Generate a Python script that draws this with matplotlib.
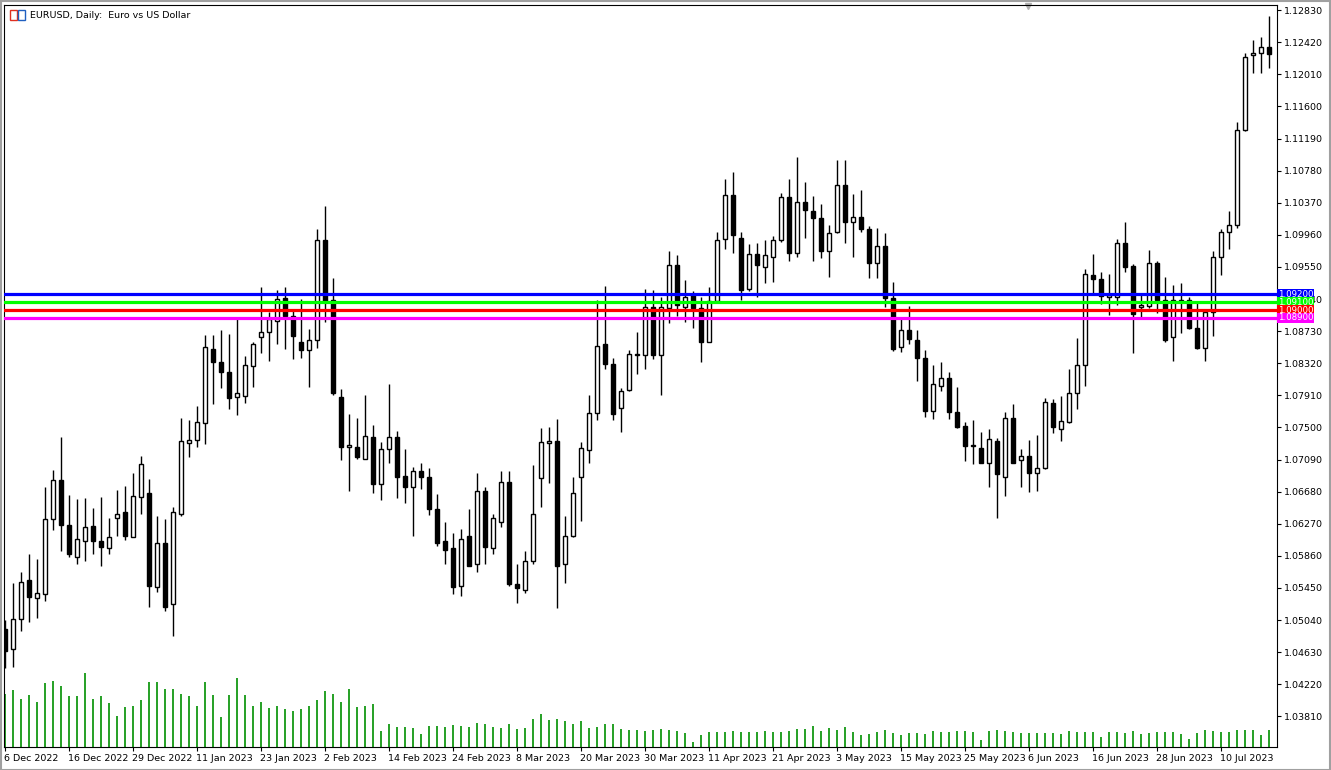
import matplotlib
matplotlib.use("Agg")
import matplotlib.pyplot as plt
from matplotlib.patches import Rectangle
import matplotlib.transforms as mtrans
import numpy as np

opens = [1.0493,1.0467,1.0506,1.0555,1.0532,1.0537,1.0633,1.0683,1.0625,1.0585,
 1.0605,1.0624,1.0605,1.0596,1.0635,1.0642,1.0610,1.0661,1.0666,1.0546,
 1.0603,1.0525,1.0640,1.0730,1.0734,1.0756,1.0850,1.0834,1.0821,1.0789,
 1.0790,1.0829,1.0866,1.0872,1.0886,1.0916,1.0893,1.0859,1.0849,1.0862,
 1.0989,1.0913,1.0789,1.0725,1.0725,1.0710,1.0738,1.0678,1.0722,1.0738,
 1.0688,1.0674,1.0694,1.0687,1.0646,1.0605,1.0596,1.0548,1.0611,1.0576,
 1.0669,1.0596,1.0629,1.0681,1.0550,1.0543,1.0580,1.0685,1.0730,1.0733,
 1.0575,1.0611,1.0687,1.0721,1.0768,1.0857,1.0831,1.0775,1.0798,1.0843,
 1.0843,1.0904,1.0843,1.0903,1.0957,1.0904,1.0919,1.0903,1.0859,1.0912,
 1.0991,1.1047,1.0992,1.0927,1.0972,1.0955,1.0968,1.0990,1.1045,1.0973,
 1.1038,1.1027,1.1017,1.0975,1.1000,1.1060,1.1013,1.1019,1.1003,1.0960,
 1.0982,1.0916,1.0853,1.0875,1.0862,1.0839,1.0771,1.0803,1.0813,1.0770,
 1.0752,1.0726,1.0724,1.0705,1.0733,1.0687,1.0762,1.0708,1.0713,1.0692,
 1.0698,1.0781,1.0748,1.0757,1.0794,1.0830,1.0945,1.0940,1.0917,1.0917,
 1.0986,1.0956,1.0904,1.0905,1.0960,1.0913,1.0865,1.0912,1.0913,1.0877,
 1.0852,1.0898,1.0968,1.1000,1.1008,1.1130,1.1226,1.1228,1.1236]
highs = [1.0504,1.0551,1.0566,1.0589,1.0582,1.0674,1.0696,1.0738,1.0664,1.0659,
 1.0660,1.0647,1.0661,1.0634,1.0670,1.0675,1.0692,1.0713,1.0684,1.0637,
 1.0633,1.0649,1.0762,1.0759,1.0777,1.0868,1.0868,1.0875,1.0870,1.0890,
 1.0841,1.0859,1.0929,1.0898,1.0925,1.0930,1.0900,1.0914,1.0876,1.1003,
 1.1033,1.0941,1.0799,1.0767,1.0762,1.0792,1.0753,1.0731,1.0806,1.0745,
 1.0722,1.0699,1.0705,1.0698,1.0665,1.0629,1.0615,1.0620,1.0646,1.0692,
 1.0674,1.0639,1.0694,1.0694,1.0575,1.0592,1.0702,1.0749,1.0751,1.0761,
 1.0637,1.0687,1.0731,1.0792,1.0913,1.0931,1.0839,1.0801,1.0849,1.0872,
 1.0927,1.0926,1.0917,1.0975,1.0970,1.0939,1.0924,1.0917,1.0929,1.1000,
 1.1067,1.1076,1.1000,1.0984,1.0985,1.0990,1.0995,1.1050,1.1067,1.1095,
 1.1063,1.1046,1.1036,1.1009,1.1091,1.1091,1.1048,1.1053,1.1007,1.1005,
 1.0999,1.0936,1.0889,1.0905,1.0875,1.0849,1.0830,1.0833,1.0821,1.0802,
 1.0757,1.0759,1.0744,1.0748,1.0737,1.0770,1.0780,1.0722,1.0734,1.0740,
 1.0788,1.0786,1.0790,1.0825,1.0864,1.0953,1.0971,1.0948,1.0946,1.0991,
 1.1013,1.0959,1.0919,1.0977,1.0963,1.0942,1.0932,1.0934,1.0917,1.0909,
 1.0900,1.0975,1.1003,1.1027,1.1140,1.1228,1.1245,1.1249,1.1276]
lows = [1.0443,1.0444,1.0490,1.0502,1.0507,1.0529,1.0619,1.0592,1.0584,1.0576,
 1.0579,1.0589,1.0573,1.0588,1.0611,1.0606,1.0610,1.0639,1.0521,1.0540,
 1.0516,1.0484,1.0637,1.0712,1.0725,1.0729,1.0780,1.0801,1.0774,1.0766,
 1.0781,1.0802,1.0845,1.0835,1.0857,1.0850,1.0838,1.0839,1.0802,1.0852,
 1.0885,1.0792,1.0708,1.0669,1.0710,1.0710,1.0666,1.0657,1.0705,1.0660,
 1.0654,1.0612,1.0671,1.0638,1.0598,1.0576,1.0537,1.0535,1.0573,1.0565,
 1.0576,1.0589,1.0623,1.0547,1.0526,1.0538,1.0575,1.0649,1.0679,1.0519,
 1.0551,1.0610,1.0630,1.0704,1.0760,1.0825,1.0760,1.0744,1.0796,1.0818,
 1.0825,1.0838,1.0792,1.0884,1.0893,1.0885,1.0877,1.0833,1.0859,1.0912,
 1.0978,1.0973,1.0913,1.0924,1.0917,1.0934,1.0936,1.0987,1.0963,1.0968,
 1.0992,1.0962,1.0966,1.0942,1.0999,1.0986,1.0968,1.1000,1.0941,1.0941,
 1.0904,1.0848,1.0847,1.0856,1.0810,1.0763,1.0761,1.0797,1.0761,1.0749,
 1.0707,1.0703,1.0705,1.0674,1.0635,1.0662,1.0704,1.0674,1.0667,1.0669,
 1.0697,1.0743,1.0733,1.0756,1.0774,1.0803,1.0922,1.0908,1.0894,1.0907,
 1.0948,1.0845,1.0889,1.0902,1.0896,1.0859,1.0835,1.0871,1.0876,1.0850,
 1.0835,1.0867,1.0945,1.0978,1.1005,1.1129,1.1203,1.1203,1.1209]
closes = [1.0465,1.0506,1.0553,1.0533,1.0538,1.0633,1.0683,1.0625,1.0589,1.0607,
 1.0623,1.0605,1.0597,1.0610,1.0640,1.0611,1.0662,1.0703,1.0547,1.0603,
 1.0521,1.0642,1.0733,1.0734,1.0757,1.0853,1.0833,1.0821,1.0788,1.0794,
 1.0830,1.0857,1.0872,1.0889,1.0914,1.0893,1.0867,1.0849,1.0862,1.0990,
 1.0910,1.0794,1.0725,1.0728,1.0712,1.0739,1.0678,1.0722,1.0738,1.0687,
 1.0674,1.0694,1.0687,1.0646,1.0603,1.0594,1.0546,1.0608,1.0573,1.0669,
 1.0597,1.0634,1.0681,1.0550,1.0545,1.0580,1.0639,1.0731,1.0733,1.0573,
 1.0612,1.0666,1.0724,1.0768,1.0854,1.0831,1.0767,1.0797,1.0844,1.0844,
 1.0904,1.0843,1.0904,1.0957,1.0907,1.0917,1.0903,1.0859,1.0912,1.0990,
 1.1047,1.0996,1.0926,1.0972,1.0957,1.0970,1.0990,1.1045,1.0973,1.1038,
 1.1028,1.1018,1.0975,1.0999,1.1060,1.1013,1.1019,1.1004,1.0960,1.0982,
 1.0916,1.0850,1.0875,1.0863,1.0839,1.0771,1.0806,1.0813,1.0770,1.0751,
 1.0726,1.0727,1.0705,1.0735,1.0690,1.0762,1.0705,1.0713,1.0692,1.0698,
 1.0783,1.0751,1.0758,1.0794,1.0830,1.0946,1.0940,1.0918,1.0919,1.0986,
 1.0955,1.0895,1.0907,1.0960,1.0913,1.0862,1.0913,1.0913,1.0877,1.0852,
 1.0898,1.0968,1.1000,1.1008,1.1130,1.1223,1.1228,1.1236,1.1227]
volumes = [160,171,144,156,135,192,198,183,153,153,222,144,153,132,93,120,123,141,195,195,
 174,174,159,153,123,195,156,90,156,207,156,123,135,117,123,114,108,114,123,141,
 168,159,135,174,120,123,129,48,69,60,60,57,39,63,63,60,66,63,60,72,
 69,60,57,69,54,57,84,99,81,84,78,69,78,57,60,69,69,54,51,51,
 48,51,54,51,48,42,15,36,45,45,45,48,45,45,45,48,45,45,48,54,
 54,63,48,57,51,60,45,36,39,45,51,42,36,42,42,39,48,45,45,48,
 48,45,21,48,51,48,45,42,42,42,42,42,39,48,45,45,45,30,45,45,
 42,48,39,42,45,45,45,39,24,42,51,48,45,45,51,51,51,36,51]
date_labels = ["6 Dec 2022","16 Dec 2022","29 Dec 2022","11 Jan 2023","23 Jan 2023",
 "2 Feb 2023","14 Feb 2023","24 Feb 2023","8 Mar 2023","20 Mar 2023","30 Mar 2023",
 "11 Apr 2023","21 Apr 2023","3 May 2023","15 May 2023","25 May 2023","6 Jun 2023",
 "16 Jun 2023","28 Jun 2023","10 Jul 2023"]
level_prices = [1.0920, 1.0910, 1.0900, 1.0890]
level_colors = ["#0000ff", "#00ff00", "#ff0000", "#ff00ff"]
price_ticks = [1.12830 - 0.0041*i for i in range(23)]

W, H = 1331, 770
fig = plt.figure(figsize=(W/100, H/100), dpi=100)
fig.patch.set_facecolor("white")
L, R, T, B = 4, 1277, 5, 747
ax = fig.add_axes([L/W, (H-B)/H, (R-L)/W, (B-T)/H])
n = len(opens)
ax.set_xlim(-0.125, 159)
ax.set_ylim(1.03419, 1.12896)

axv = ax.twinx()
axv.set_ylim(0, (B-T)*3)
axv.set_xlim(-0.125, 159)
axv.vlines(np.arange(n), 0, volumes, color="#009000", lw=1.2)
axv.axis("off")
axv.set_zorder(0)
ax.set_zorder(1)
ax.patch.set_visible(False)

bw = 0.56
for i in range(n):
    o, h, l, c = opens[i], highs[i], lows[i], closes[i]
    ax.vlines(i, l, h, color="black", lw=1.0, zorder=3)
    bot, top = min(o, c), max(o, c)
    ht = max(top-bot, 0.00003)
    face = "white" if c >= o else "black"
    ax.add_patch(Rectangle((i-bw/2, bot), bw, ht, facecolor=face, edgecolor="black", lw=1.0, zorder=4))

for p, col in zip(level_prices, level_colors):
    ax.axhline(p, color=col, lw=2.3, zorder=5)
    ax.text(1.0005, p, f"{p:.5f}", transform=ax.get_yaxis_transform(), color="white",
            fontsize=6.2, va="center", ha="left", zorder=10, clip_on=False,
            bbox=dict(boxstyle="square,pad=0.08", fc=col, ec="none"))

ax.yaxis.tick_right()
ax.set_yticks(price_ticks)
ax.set_yticklabels([f"{t:.5f}" for t in price_ticks], fontsize=6.8)
ax.tick_params(axis="y", direction="out", length=3, width=0.8, pad=2)
ax.set_xticks(np.arange(0, n, 8))
ax.set_xticklabels(date_labels, fontsize=6.8, ha="left")
ax.tick_params(axis="x", direction="out", length=3, width=0.8, pad=2)
off = mtrans.ScaledTranslation(-1/100, 0, fig.dpi_scale_trans)
for lab in ax.get_xticklabels():
    lab.set_transform(lab.get_transform() + off)

ax.text(30/W, 1-15/H, "EURUSD, Daily:  Euro vs US Dollar", transform=fig.transFigure,
        fontsize=6.8, va="center", ha="left")
fig.patches.append(Rectangle((10/W, 1-20/H), 7/W, 10/H, transform=fig.transFigure, fc="white", ec="#e03020", lw=1))
fig.patches.append(Rectangle((18/W, 1-20/H), 7/W, 10/H, transform=fig.transFigure, fc="white", ec="#2060c0", lw=1))
ax.plot([1028/W], [1-6/H], marker="v", color="#b0b0b0", ms=5, transform=fig.transFigure, clip_on=False)
fig.patches.append(Rectangle((0.5/W, 0.5/H), (W-1.5)/W, (H-1.5)/H, transform=fig.transFigure, fc="none", ec="#a0a0a0", lw=1.5))

fig.savefig("out.png", dpi=100)
